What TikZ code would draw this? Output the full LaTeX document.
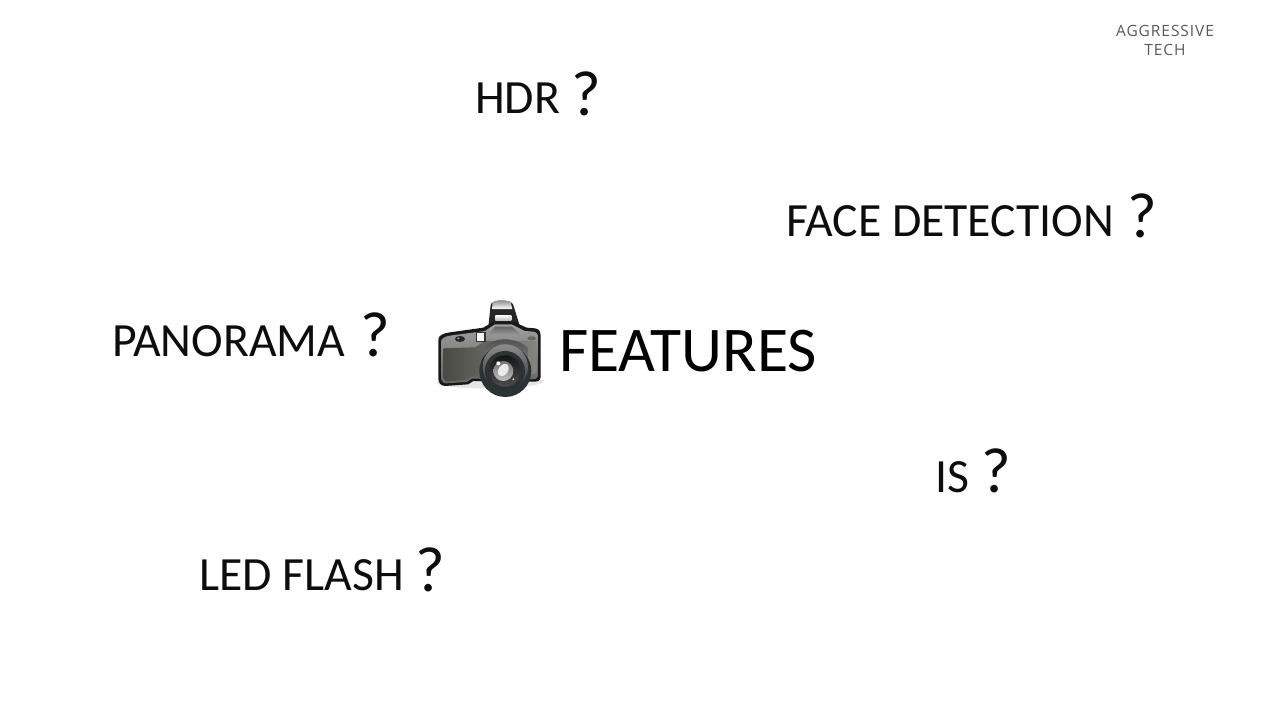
\documentclass[tikz,border=0pt]{standalone}
\usepackage{fontspec}
\setmainfont{Carlito}
\newfontfamily\markfont[LetterSpace=6]{Open Sans}
\definecolor{ink}{HTML}{0D0D0D}
\definecolor{bodya}{HTML}{85857D}
\definecolor{bodyb}{HTML}{4A4A45}
\definecolor{lensd}{HTML}{2A3234}
\tikzset{
 lab/.style={anchor=base west,inner sep=0pt,text=ink,font=\fontsize{47.7}{50}\selectfont},
 q/.style={anchor=base west,inner sep=0pt,text=ink,font=\fontsize{64}{66}\selectfont},
 wm/.style={inner sep=0pt,text=black!65,font=\markfont\fontsize{15.5}{17}\selectfont},
}
\begin{document}
\begin{tikzpicture}[x=1pt,y=-1pt]
\useasboundingbox (0,0) rectangle (1280,720);
\fill[white] (0,0) rectangle (1280,720);
\node[wm] (w1) at (1165,31) {AGGRESSIVE};
\node[wm] (w2) at (1165,50) {TECH};
\node[lab] (t1) at (475,113) {HDR};
\node[q] (q1) at (571,115) {?};
\node[lab] (t2) at (786,236) {FACE DETECTION};
\node[q] (q2) at (1127,237) {?};
\node[lab] (t3) at (112,356) {PANORAMA};
\node[q] (q3) at (360,356) {?};
\node[lab] (t4) at (935,492) {IS};
\node[q] (q4) at (981,492) {?};
\node[lab] (t5) at (199,590) {LED FLASH};
\node[q] (q5) at (415,591) {?};
\node[anchor=base west,inner sep=0pt,text=black,font=\fontsize{63.7}{66}\selectfont] (f) at (559,371) {FEATURES};
% camera, coordinates of the 3x crop
\begin{scope}[shift={(420,285)},x=0.3333pt,y=-0.3333pt]
\fill[black!10] (48,290) .. controls (40,318) and (380,318) .. (372,285) -- cycle;
% flash
\fill[black!85] (205,125) -- (212,60) .. controls (214,42) and (276,42) .. (280,60) -- (300,125) -- cycle;
\shade[top color=black!45,bottom color=white] (216,72) -- (218,52) .. controls (225,45) and (268,45) .. (272,52) -- (277,72) -- cycle;
\shade[top color=white,bottom color=black!25] (226,90) rectangle (274,106);
% body
\fill[black!90] (55,165) .. controls (55,150) and (70,145) .. (90,142) -- (190,128) -- (220,110) -- (280,110) -- (320,128) -- (345,130) .. controls (358,132) and (362,140) .. (362,155) -- (362,275) .. controls (362,290) and (350,290) .. (340,290) -- (160,288) -- (145,298) -- (75,303) .. controls (60,303) and (55,290) .. (55,280) -- cycle;
\shade[top color=black!38,bottom color=black!60] (63,170) .. controls (63,160) and (75,155) .. (90,152) -- (195,138) -- (225,118) -- (275,118) -- (315,138) -- (340,140) .. controls (352,142) and (354,148) .. (354,158) -- (354,270) .. controls (354,282) and (345,283) .. (335,283) -- (155,281) -- (140,291) -- (78,295) .. controls (66,295) and (63,285) .. (63,275) -- cycle;
\shade[left color=bodyb,right color=bodya] (70,190) -- (165,187) -- (195,168) -- (350,168) -- (350,262) .. controls (340,277) and (200,279) .. (155,274) -- (138,285) -- (82,289) .. controls (72,287) and (70,282) .. (70,272) -- cycle;
\shade[top color=black!60,bottom color=black!40] (225,125) -- (275,125) -- (305,150) -- (205,150) -- cycle;
% controls
\fill[black!85] (120,162) ellipse (15 and 9);
\fill[black!40] (115,160) ellipse (4 and 3);
\fill[black!60] (335,160) ellipse (13 and 6);
\fill[black!80] (168,140) rectangle (197,172);
\fill[black!4] (172,144) rectangle (193,168);
% lens
\shade[top color=black!70,bottom color=black!50] (195,185) .. controls (225,155) and (290,155) .. (325,190) -- (325,235) -- (195,235) -- cycle;
\fill[lensd] (256,258) circle (78);
\shade[top color=black!45,bottom color=lensd] (256,246) circle (68);
\fill[lensd] (255,258) circle (60);
\shade[top color=black!92,bottom color=black!70] (255,258) circle (47);
\shade[top color=black!55,bottom color=black!25] (250,258) circle (30);
\fill[black!8,rotate around={-35:(250,255)}] (250,255) ellipse (14 and 20);
\fill[white] (235,235) circle (6);
\fill[black!10] (280,283) circle (3);
\end{scope}
\end{tikzpicture}
\end{document}
